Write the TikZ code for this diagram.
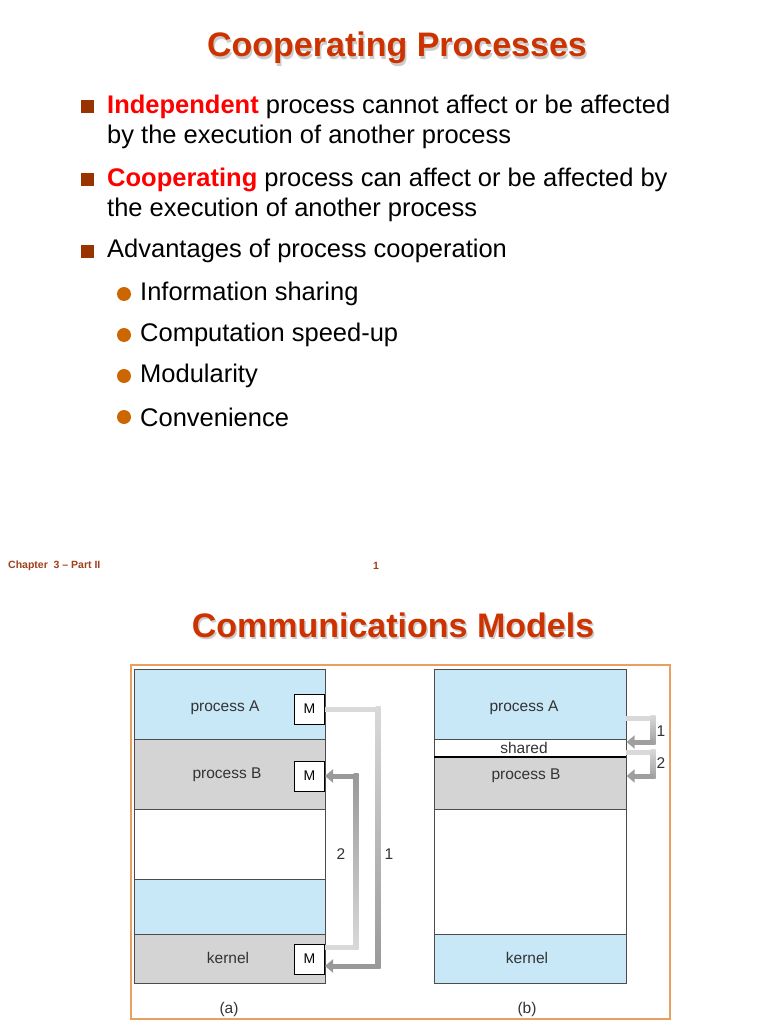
\documentclass[tikz,border=0pt]{standalone}
\usepackage{fontspec}
\setmainfont{Liberation Sans}
\usetikzlibrary{arrows.meta}
\definecolor{ttl}{HTML}{CC3300}
\definecolor{sq}{HTML}{993300}
\definecolor{dot}{HTML}{CC6600}
\definecolor{kw}{HTML}{FF0000}
\definecolor{pblue}{HTML}{C8E8F8}
\definecolor{pgray}{HTML}{D4D4D4}
\definecolor{frm}{HTML}{E8A060}
\definecolor{foot}{HTML}{A0401A}
\begin{document}
\begin{tikzpicture}[x=1pt,y=-1pt,
  title/.style={font=\fontsize{34}{40}\selectfont\bfseries, text=ttl, inner sep=0},
  body/.style={font=\fontsize{25.5}{30}\selectfont, anchor=west, inner sep=0, align=left},
  sqb/.style={fill=sq, minimum size=13pt, inner sep=0},
  dotb/.style={circle, fill=dot, minimum size=14pt, inner sep=0},
  blk/.style={draw=black!70, line width=0.6pt, minimum width=#1, inner sep=0, anchor=north west},
  lbl/.style={font=\fontsize{15.5}{18}\selectfont, text=black!80},
  mbox/.style={draw=black, line width=1pt, fill=white, minimum width=30pt, minimum height=30pt, inner sep=0, font=\fontsize{14}{16}\selectfont},
  pipe/.style={line width=5pt},
  tip/.style={-{Triangle[width=13pt,length=8pt]}}
]
\useasboundingbox (0,0) rectangle (768,1024);
\fill[white] (0,0) rectangle (768,1024);

% slide 1
\node[title, text=black!20] at (398.5,50.5) {Cooperating Processes};
\node[title] (t1) at (397,48) {Cooperating Processes};
\node[sqb] (b1) at (87,107) {};
\node[body] (l1) at (107,122) {\textcolor{kw}{\bfseries Independent} process cannot affect or be affected\\by the execution of another process};
\node[sqb] (b2) at (87,180) {};
\node[body] (l2) at (107,195) {\textcolor{kw}{\bfseries Cooperating} process can affect or be affected by\\the execution of another process};
\node[sqb] (b3) at (87,251) {};
\node[body] (l3) at (107,251) {Advantages of process cooperation};
\node[dotb] (d1) at (124,294) {};
\node[body] (s1) at (140,294) {Information sharing};
\node[dotb] (d2) at (124,335) {};
\node[body] (s2) at (140,335) {Computation speed-up};
\node[dotb] (d3) at (124,376) {};
\node[body] (s3) at (140,376) {Modularity};
\node[dotb] (d4) at (124,417) {};
\node[body] (s4) at (140,417) {Convenience};

\node[font=\fontsize{10.5}{12}\selectfont\bfseries, text=foot, anchor=west, inner sep=0] (ft) at (8,566) {Chapter\ \ 3 -- Part II};
\node[font=\fontsize{10.5}{12}\selectfont\bfseries, text=foot] (pg) at (376,566) {1};

% slide 2
\node[title, text=black!20] at (394.5,627.5) {Communications Models};
\node[title] (t2) at (393,625) {Communications Models};
\draw[frm, line width=1.5pt] (131,665) rectangle (670,1019);

% (a)
\node[blk=191pt, minimum height=70pt, fill=pblue] (aA) at (134,669) {};
\node[blk=191pt, minimum height=70pt, fill=pgray] (aB) at (134,739) {};
\node[blk=191pt, minimum height=70pt, fill=white] (aW) at (134,809) {};
\node[blk=191pt, minimum height=55pt, fill=pblue] (aC) at (134,879) {};
\node[blk=191pt, minimum height=49pt, fill=pgray] (aK) at (134,934) {};
\node[lbl] at (225,708) {process A};
\node[lbl] at (227,775) {process B};
\node[lbl] at (228,958) {kernel};
\node[mbox, anchor=east] (mA) at (325,709) {M};
\node[mbox, anchor=east] (mB) at (325,776) {M};
\node[mbox, anchor=east] (mK) at (325,959) {M};

\coordinate (p1a) at (378,709);
\coordinate (p1b) at (378,966);
\coordinate (p2s) at (325,947);
\coordinate (p2a) at (356,947);
\coordinate (p2b) at (356,776);
% arrow 1
\draw[pipe, gray!30] (mA.east) -- (p1a);
\shade[top color=gray!30, bottom color=gray!80] (375.5,706.5) rectangle (380.5,968.5);
\draw[pipe, gray!80, tip] (p1b) -- (mK.east |- p1b);
% arrow 2
\draw[pipe, gray!30] (p2s) -- (p2a);
\shade[top color=gray!80, bottom color=gray!30] (353.5,773.5) rectangle (358.5,949.5);
\draw[pipe, gray!80, tip] (p2b) -- (mB.east);
\node[lbl] at (341,854) {2};
\node[lbl] at (389,854) {1};
\node[lbl] at (229,1009) {(a)};

% (b)
\node[blk=192pt, minimum height=70pt, fill=pblue] (bA) at (434,669) {};
\node[blk=192pt, minimum height=18pt, fill=white] (bS) at (434,739) {};
\node[blk=192pt, minimum height=52pt, fill=pgray] (bB) at (434,757) {};
\node[blk=192pt, minimum height=125pt, fill=white] (bW) at (434,809) {};
\node[blk=192pt, minimum height=49pt, fill=pblue] (bK) at (434,934) {};
\draw[black, line width=1.2pt] (434,757) -- (626,757);
\node[lbl] at (524,708) {process A};
\node[lbl] at (524,748) {shared};
\node[lbl] at (526,776) {process B};
\node[lbl] at (527,958) {kernel};

\coordinate (r1a) at (653,718);
\coordinate (r1b) at (653,742);
\coordinate (r2a) at (653,752);
\coordinate (r2b) at (653,776);
\draw[pipe, gray!30] (626,718) -- (r1a);
\shade[top color=gray!30, bottom color=gray!75] (650.5,715.5) rectangle (655.5,744.5);
\draw[pipe, gray!75, tip] (r1b) -- (bS.east |- r1b);
\draw[pipe, gray!30] (626,752) -- (r2a);
\shade[top color=gray!30, bottom color=gray!75] (650.5,749.5) rectangle (655.5,778.5);
\draw[pipe, gray!75, tip] (r2b) -- (bB.east |- r2b);
\node[lbl] at (661,731) {1};
\node[lbl] at (661,763) {2};
\node[lbl] at (527,1009) {(b)};
\end{tikzpicture}
\end{document}
